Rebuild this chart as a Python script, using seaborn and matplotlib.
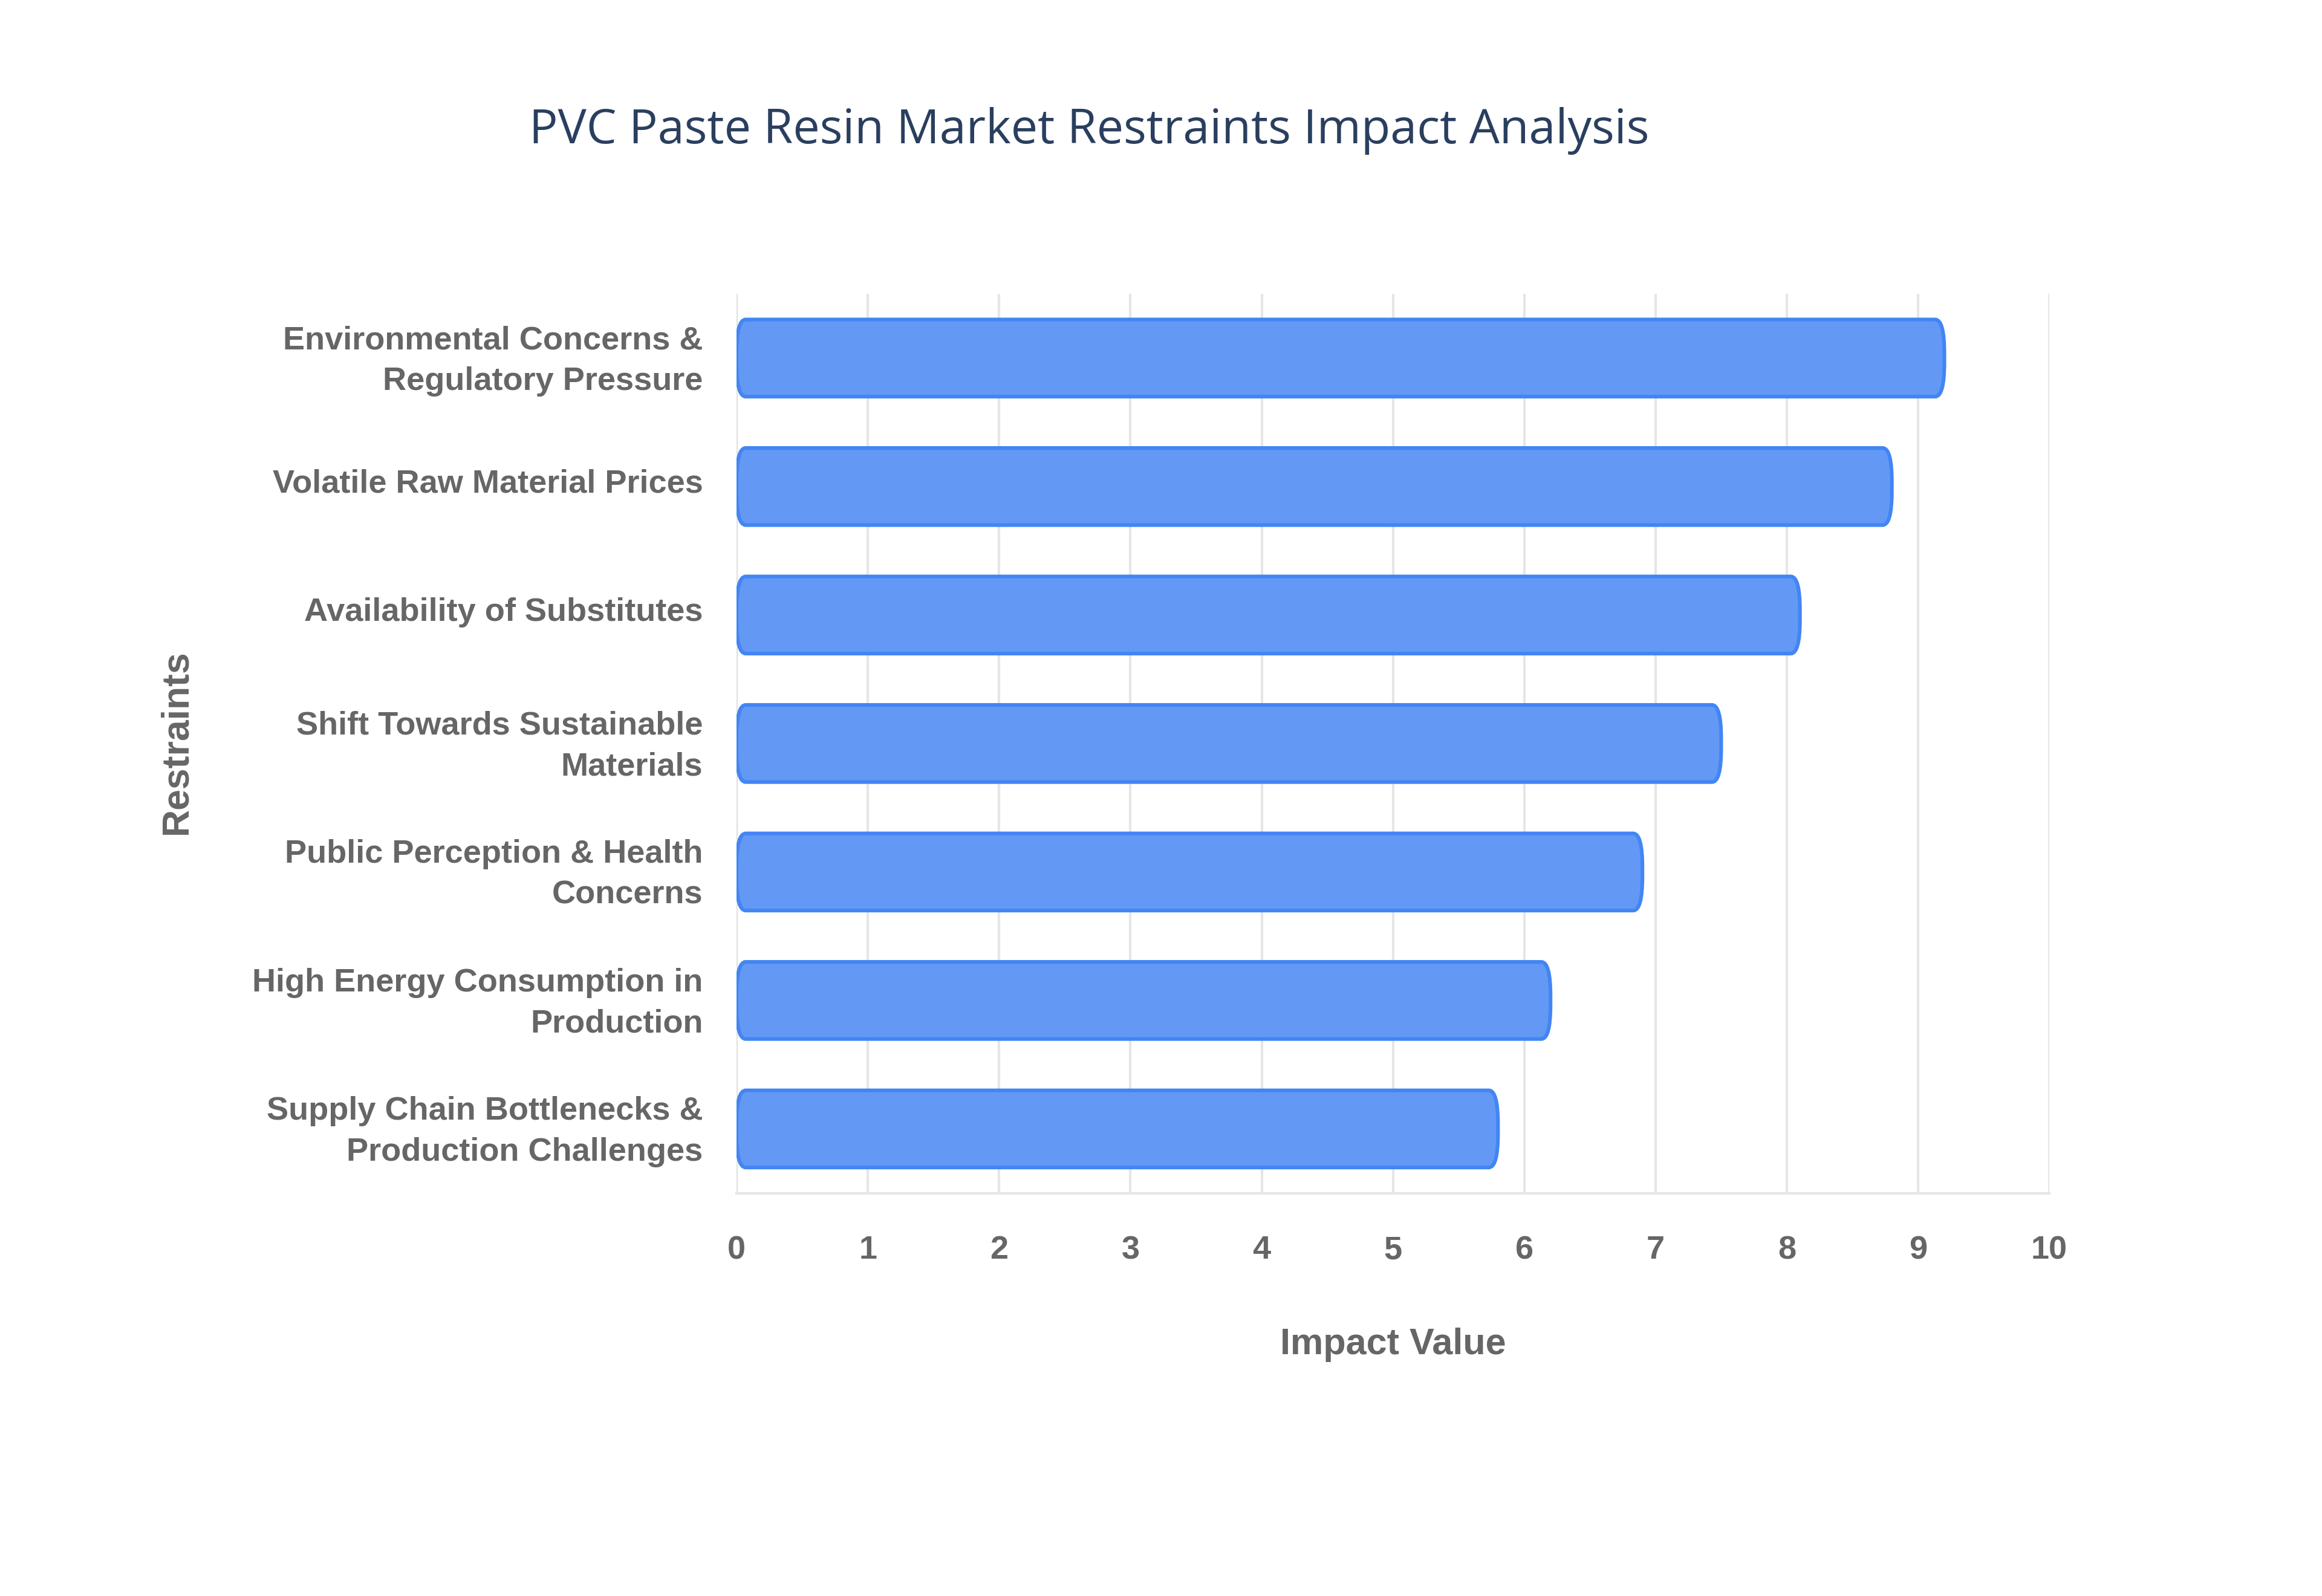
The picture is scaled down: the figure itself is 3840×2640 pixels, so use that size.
import matplotlib
matplotlib.use("Agg")
import matplotlib.pyplot as plt
import matplotlib.transforms as mtransforms
import seaborn as sns
import pandas as pd
from matplotlib.patches import FancyBboxPatch

# Chart data
restraints = [
    "Environmental Concerns &\nRegulatory Pressure",
    "Volatile Raw Material Prices",
    "Availability of Substitutes",
    "Shift Towards Sustainable\nMaterials",
    "Public Perception & Health\nConcerns",
    "High Energy Consumption in\nProduction",
    "Supply Chain Bottlenecks &\nProduction Challenges",
]
impact_values = [9.2, 8.8, 8.1, 7.5, 6.9, 6.2, 5.8]
x_ticks = [0, 1, 2, 3, 4, 5, 6, 7, 8, 9, 10]

df = pd.DataFrame({"Restraints": restraints, "Impact Value": impact_values})

sns.set_theme(style="white")
plt.rcParams["font.family"] = ["Liberation Sans", "DejaVu Sans"]

fig = plt.figure(figsize=(19.2, 13.2), dpi=200)
ax = fig.add_axes([0.3172, 0.2524, 0.5654, 0.5635])

sns.barplot(
    data=df,
    x="Impact Value",
    y="Restraints",
    order=restraints,
    color="#4285F4",
    width=0.6,
    ax=ax,
)

# Swap plain bars for slightly rounded ones
fill = (0.39, 0.60, 0.96, 1.0)
edge = "#4285F4"
for p in list(ax.patches):
    x0, y0 = p.get_x(), p.get_y()
    w, h = p.get_width(), p.get_height()
    p.set_visible(False)
    rb = FancyBboxPatch(
        (x0, y0), w, h,
        boxstyle="round,pad=0,rounding_size=0.07",
        mutation_aspect=h / 0.16,
        facecolor=fill, edgecolor=edge, linewidth=2.2, zorder=3,
    )
    ax.add_patch(rb)

ax.set_xlim(0, 10)
ax.set_xticks(x_ticks)
ax.set_xticklabels([str(t) for t in x_ticks])
ax.grid(axis="x", color="#e6e6e6", linewidth=1.5, zorder=0)
ax.set_axisbelow(True)
for side in ["top", "right", "left"]:
    ax.spines[side].set_visible(False)
ax.spines["bottom"].set_color("#e6e6e6")
ax.spines["bottom"].set_linewidth(1.5)
ax.axvline(0, color="#e0e0e0", linewidth=1.5, zorder=1)
ax.tick_params(axis="both", length=0)
ax.tick_params(axis="x", pad=25)
ax.tick_params(axis="y", pad=20)

# nudge y labels up a touch so they sit on the bar centres
nudge = mtransforms.ScaledTranslation(0, 3.5 / 72, fig.dpi_scale_trans)
for lab in ax.get_yticklabels():
    lab.set_fontsize(19.5)
    lab.set_fontweight("bold")
    lab.set_color("#666666")
    lab.set_horizontalalignment("right")
    lab.set_multialignment("right")
    lab.set_linespacing(1.45)
    lab.set_transform(lab.get_transform() + nudge)
for lab in ax.get_xticklabels():
    lab.set_fontsize(19.5)
    lab.set_fontweight("bold")
    lab.set_color("#666666")

ax.set_xlabel("Impact Value", fontsize=22, fontweight="bold", color="#666666", labelpad=37)
ax.set_ylabel("")
fig.text(0.076, 0.535, "Restraints", rotation=90, fontsize=22.5, fontweight="bold",
         color="#666666", ha="center", va="center")

fig.text(0.469, 0.918, "PVC Paste Resin Market Restraints Impact Analysis",
         fontsize=28.5, color="#2a3f5f", ha="center", va="center",
         family=["Open Sans", "DejaVu Sans"])

fig.savefig("out.png", dpi=200, facecolor="white")
